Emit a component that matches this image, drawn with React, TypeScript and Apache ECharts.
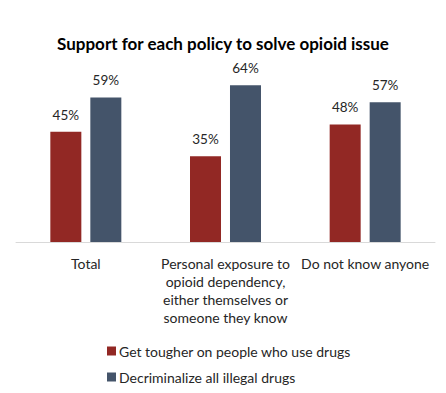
import React, { useEffect, useRef } from "react";
import * as echarts from "echarts";

const categories = [
  "Total",
  "Personal exposure to\nopioid dependency,\neither themselves or\nsomeone they know",
  "Do not know anyone",
];
const seriesNames = ["Get tougher on people who use drugs", "Decriminalize all illegal drugs"];
const tougher = [45, 35, 48];
const decriminalize = [59, 64, 57];

const FONT = "Lato, 'Open Sans', sans-serif";

export default function App() {
  const ref = useRef<HTMLDivElement>(null);
  useEffect(() => {
    if (!ref.current) return;
    const chart = echarts.init(ref.current, null, { renderer: "svg" });
    const label = {
      show: true,
      position: "top",
      distance: 10,
      formatter: "{c}%",
      color: "#262626",
      fontSize: 13.5,
      fontFamily: FONT,
    };
    chart.setOption({
      animation: false,
      backgroundColor: "#ffffff",
      title: {
        text: "Support for each policy to solve opioid issue",
        left: "center",
        top: 30,
        textStyle: { fontSize: 17, fontWeight: "bold", color: "#000", fontFamily: FONT },
      },
      legend: {
        orient: "vertical",
        left: 102,
        top: 339,
        icon: "rect",
        itemWidth: 9,
        itemHeight: 9,
        itemGap: 12,
        textStyle: { fontSize: 14, color: "#262626", fontFamily: FONT, padding: [0, 0, 0, -2] },
        data: seriesNames,
      },
      grid: { left: 16, right: 11, top: 70.5, bottom: 151 },
      xAxis: {
        type: "category",
        data: categories,
        axisLine: { lineStyle: { color: "#d9d9d9" } },
        axisTick: { show: false },
        axisLabel: {
          color: "#262626",
          fontSize: 14,
          fontFamily: FONT,
          lineHeight: 18,
          margin: 12,
          interval: 0,
        },
      },
      yAxis: { type: "value", min: 0, max: 70, show: false, splitLine: { show: false } },
      series: [
        {
          name: seriesNames[0],
          type: "bar",
          data: tougher,
          barWidth: 31,
          barGap: "29%",
          itemStyle: { color: "#922824" },
          label,
        },
        {
          name: seriesNames[1],
          type: "bar",
          data: decriminalize,
          barWidth: 31,
          itemStyle: { color: "#44546a" },
          label,
        },
      ],
    });
    return () => chart.dispose();
  }, []);
  return <div ref={ref} style={{ width: 446, height: 393, position: "absolute", left: 0, top: 0 }} />;
}
